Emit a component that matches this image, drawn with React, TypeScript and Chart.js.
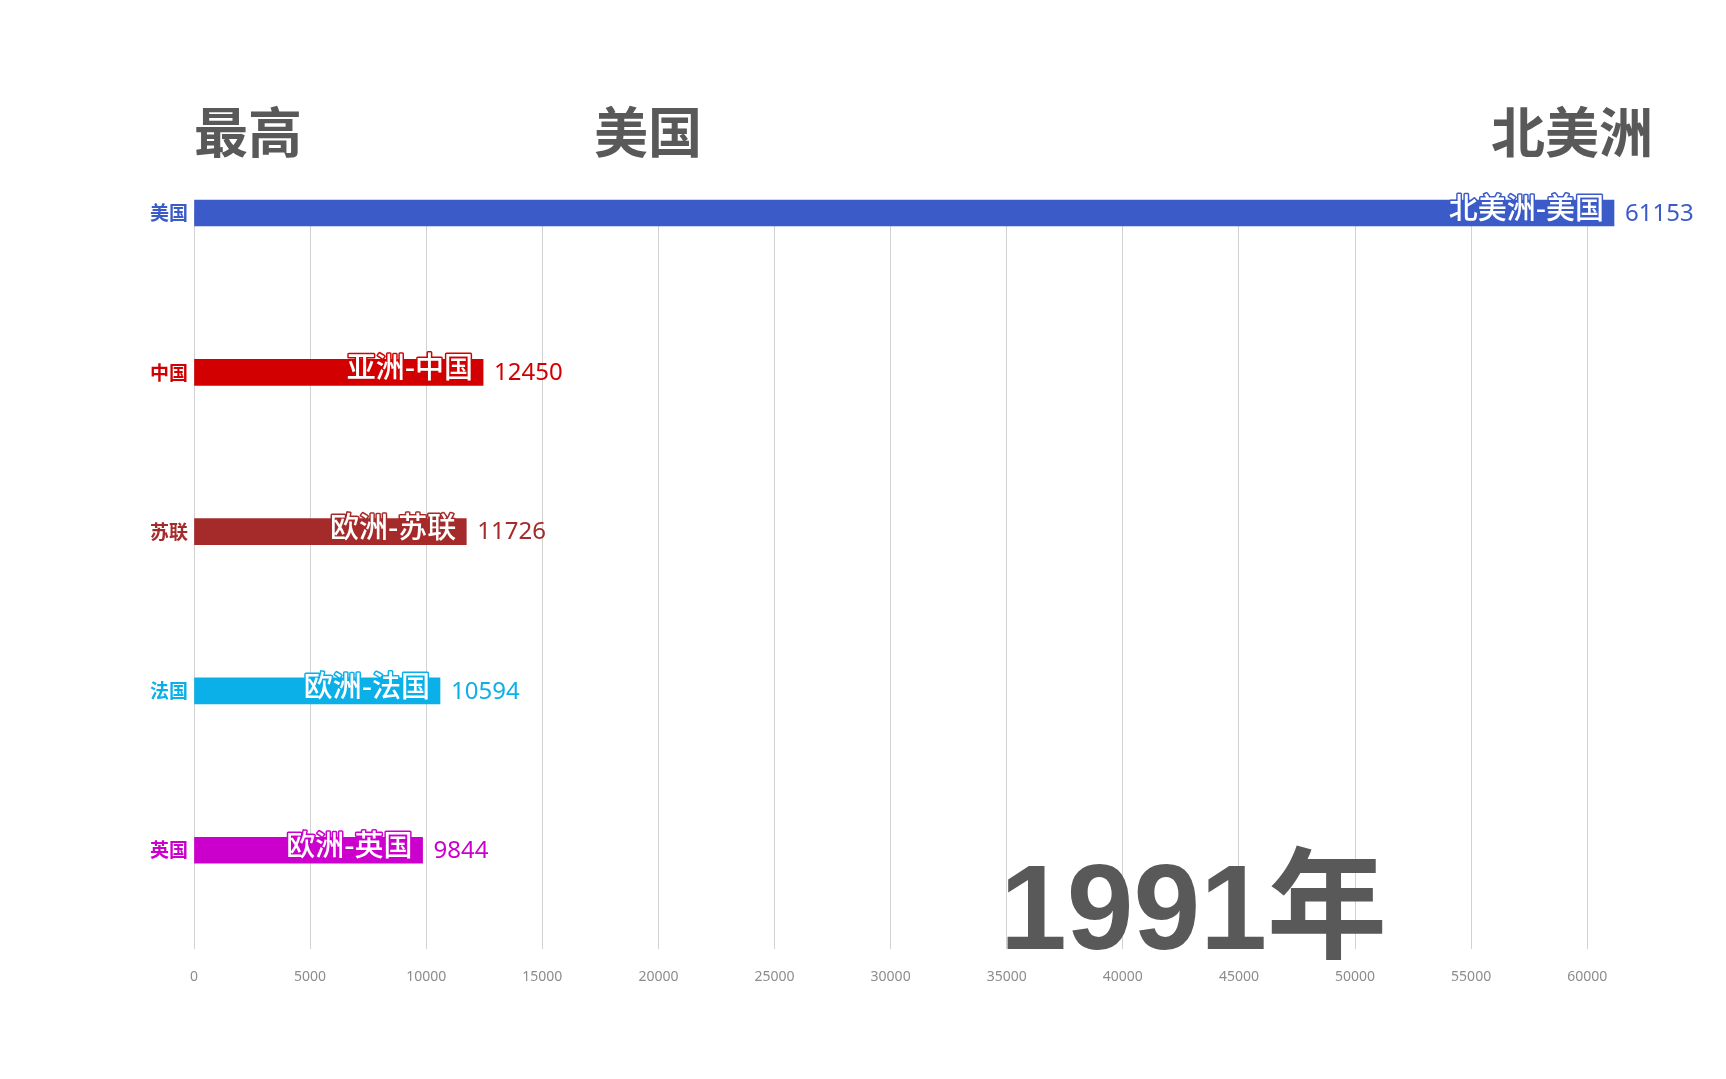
import { useEffect, useRef } from "react";
import { Chart, registerables } from "chart.js";

Chart.register(...registerables);

// ---- data ----
const countries = ["美国", "中国", "苏联", "法国", "英国"];
const continents = ["北美洲", "亚洲", "欧洲", "欧洲", "欧洲"];
const values = [61153, 12450, 11726, 10594, 9844];
const barColors = ["#3a5bc8", "#d20000", "#a52a2a", "#0bb0e8", "#cc00cc"];
const xTickValues = [0, 5000, 10000, 15000, 20000, 25000, 30000, 35000, 40000, 45000, 50000, 55000, 60000];
const titleLeft = "最高";
const yearLabel = "1991年";

const W = 1710;
const H = 1060;
const GRAY = "#595959";

const labelPlugin = {
  id: "barLabels",
  afterDatasetsDraw(chart: any) {
    const ctx = chart.ctx;
    const meta = chart.getDatasetMeta(0);
    ctx.save();
    meta.data.forEach((bar: any, i: number) => {
      const x = bar.x;
      const y = bar.y;
      const text = continents[i] + "-" + countries[i];
      ctx.font = '500 29px "Noto Sans CJK SC", sans-serif';
      ctx.textAlign = "right";
      ctx.textBaseline = "middle";
      ctx.lineJoin = "round";
      ctx.lineWidth = 3;
      ctx.strokeStyle = barColors[i];
      ctx.strokeText(text, x - 10, y - 5);
      ctx.fillStyle = "#ffffff";
      ctx.fillText(text, x - 10, y - 5);

      ctx.font = '24px "Noto Sans", "Open Sans", sans-serif';
      ctx.textAlign = "left";
      ctx.fillStyle = barColors[i];
      ctx.fillText(String(values[i]), x + 11, y + 1);
    });
    ctx.restore();
  },
  afterDraw(chart: any) {
    const ctx = chart.ctx;
    ctx.save();
    let lead = 0;
    values.forEach((v, i) => {
      if (v > values[lead]) lead = i;
    });
    ctx.fillStyle = GRAY;
    ctx.textBaseline = "middle";
    ctx.font = 'bold 54px "Noto Sans CJK SC", sans-serif';
    ctx.textAlign = "left";
    ctx.fillText(titleLeft, 186, 124);
    ctx.fillText(countries[lead], 586, 124);
    ctx.textAlign = "right";
    ctx.fillText(continents[lead], 1645, 124);

    ctx.font = 'bold 120px "Liberation Sans", "Noto Sans CJK SC", sans-serif';
    ctx.textAlign = "left";
    ctx.textBaseline = "alphabetic";
    ctx.fillText(yearLabel, 992, 941);
    ctx.restore();
  },
};

export default function App() {
  const ref = useRef<HTMLCanvasElement | null>(null);

  useEffect(() => {
    if (!ref.current) return;
    const maxVal = Math.max(...values);
    const chart = new Chart(ref.current, {
      type: "bar",
      data: {
        datasets: [
          {
            data: values.map((v, i) => ({ x: v, y: i })) as any,
            backgroundColor: barColors,
            barThickness: 26,
            clip: false as any,
          },
        ],
      },
      options: {
        indexAxis: "y",
        responsive: false,
        animation: false,
        devicePixelRatio: 1,
        layout: { padding: { left: 0, right: 104, top: 205, bottom: 59 } },
        plugins: {
          legend: { display: false },
          tooltip: { enabled: false },
          title: { display: false },
        },
        scales: {
          x: {
            type: "linear",
            position: "bottom",
            min: 0,
            max: maxVal,
            offset: false,
            afterBuildTicks: (scale: any) => {
              scale.ticks = xTickValues.map((v) => ({ value: v }));
            },
            afterFit: (scale: any) => {
              scale.height = 60;
            },
            grid: {
              color: "#d2d2d2",
              lineWidth: 1,
              drawTicks: false,
              offset: false,
            },
            border: { display: false },
            ticks: {
              padding: 20,
              color: "#8c8c8c",
              font: { size: 14, family: '"Noto Sans", "Open Sans", sans-serif' },
              maxRotation: 0,
              autoSkip: false,
              callback: (v: any) => String(v),
            },
          },
          y: {
            type: "linear",
            reverse: true,
            min: 0,
            max: 4.62,
            offset: false,
            afterBuildTicks: (scale: any) => {
              scale.ticks = countries.map((_, i) => ({ value: i }));
            },
            afterFit: (scale: any) => {
              scale.width = 186;
            },
            grid: { display: false, drawTicks: false, offset: false },
            border: { display: false },
            ticks: {
              padding: 6,
              autoSkip: false,
              color: (c: any) => barColors[c.index] ?? GRAY,
              font: { size: 19, weight: "bold", family: '"Noto Sans CJK SC", sans-serif' },
              callback: (v: any) => countries[Math.round(Number(v))] ?? "",
            },
          },
        },
      },
      plugins: [labelPlugin],
    } as any);
    return () => chart.destroy();
  }, []);

  return (
    <div style={{ width: W, height: H, position: "relative" }}>
      <canvas ref={ref} width={W} height={H} style={{ display: "block", width: W, height: H }} />
    </div>
  );
}
